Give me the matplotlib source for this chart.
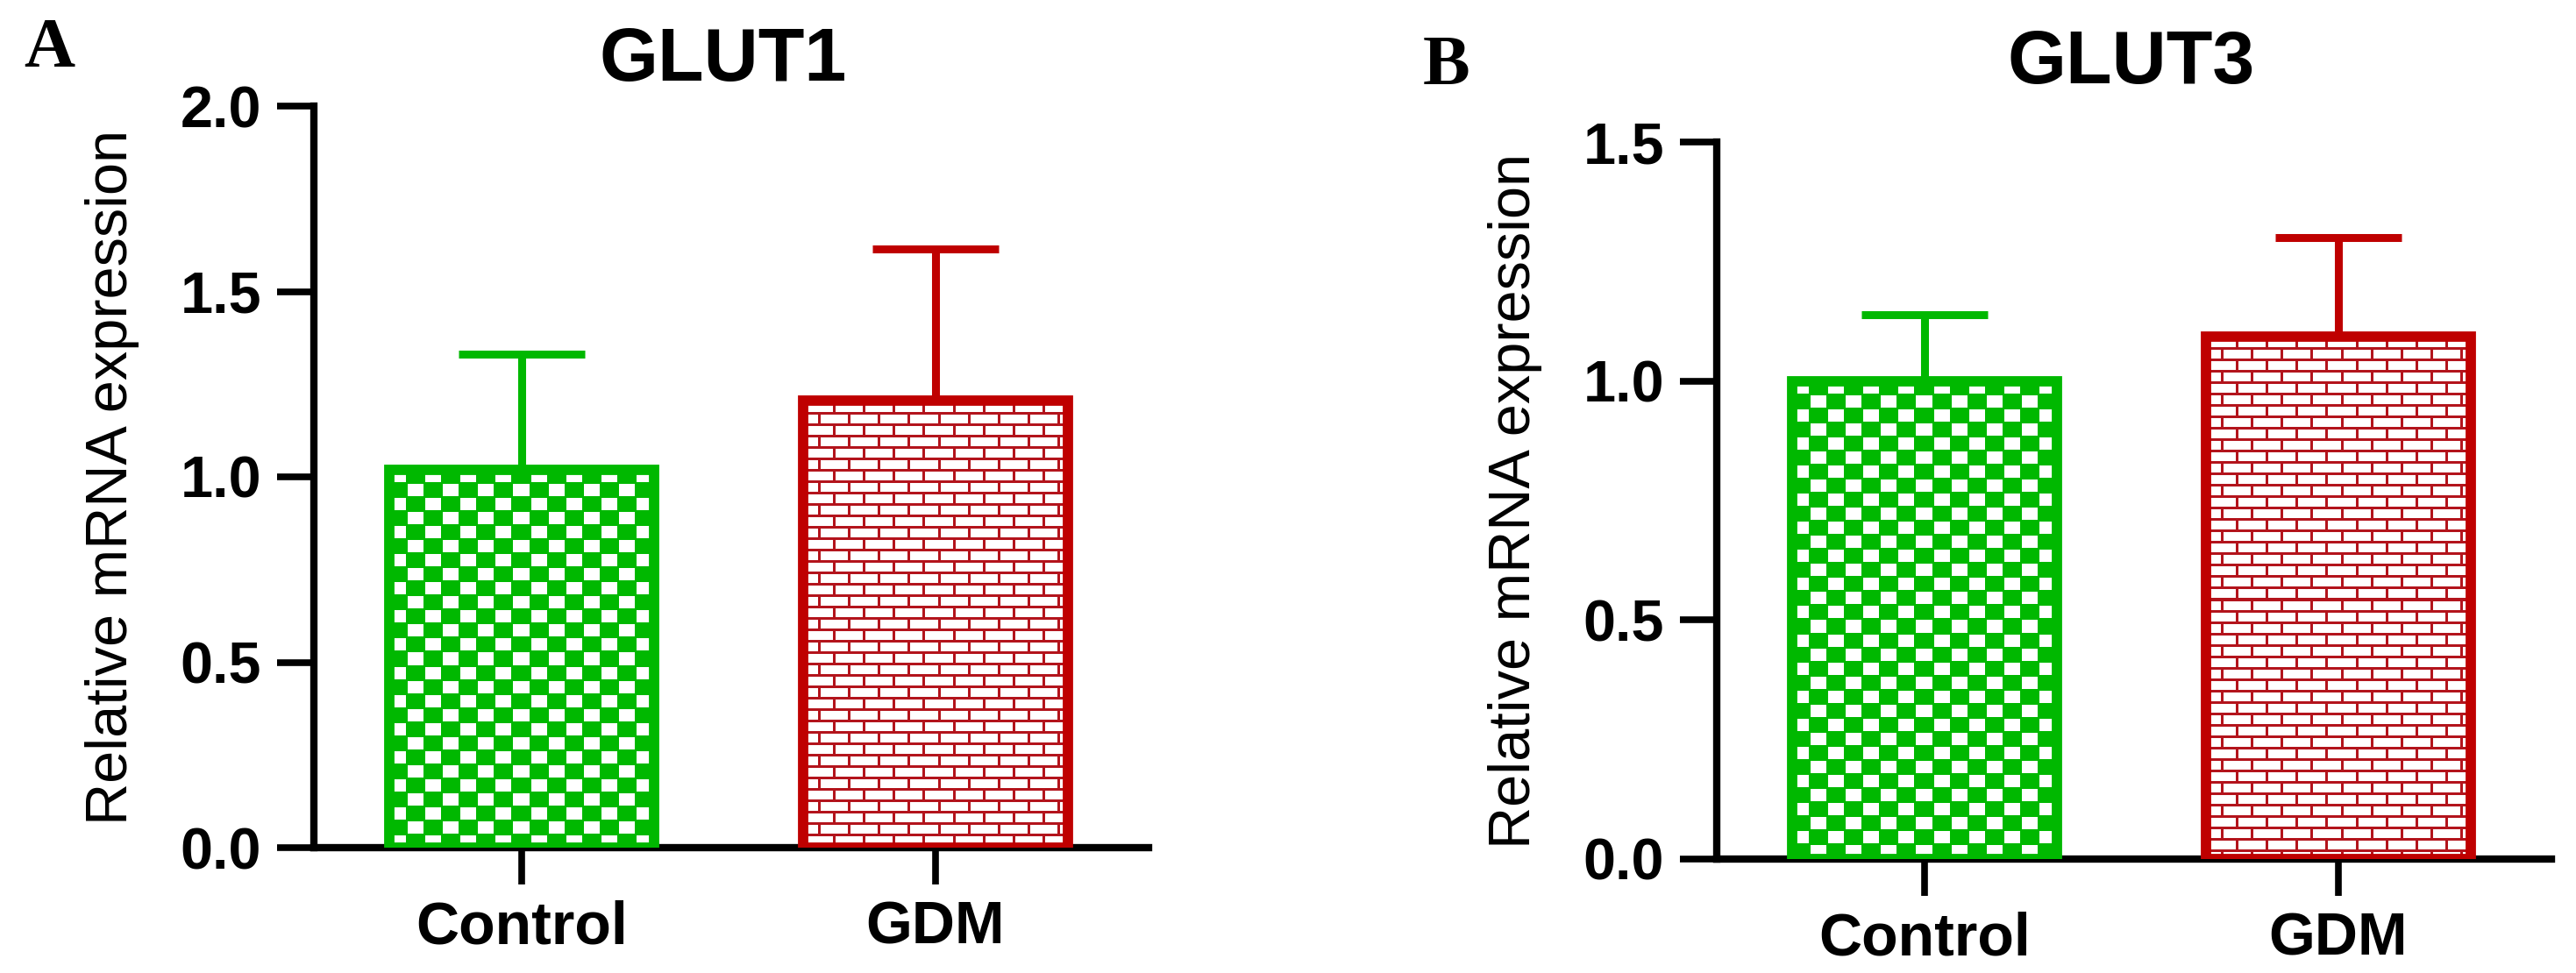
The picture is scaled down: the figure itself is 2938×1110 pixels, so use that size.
import numpy as np
import matplotlib
matplotlib.use("Agg")
import matplotlib.pyplot as plt
from matplotlib.ticker import FormatStrFormatter, MultipleLocator

# -----------------------------
# Data
# -----------------------------
groups = ["Control", "GDM"]

glut1_mean = [1.02, 1.205]
glut1_err = [0.31, 0.41]

glut3_mean = [1.00, 1.093]
glut3_err = [0.138, 0.207]

# -----------------------------
# Style
# -----------------------------
GREEN = "#00b800"
RED = "#bf0000"
MORTAR = "#b3141c"
SANS = "Liberation Sans"
SERIF = "Liberation Serif"

DPI = 100
BAR_W = 0.64

fig = plt.figure(figsize=(29.38, 11.10), dpi=DPI)
fig.patch.set_facecolor("white")


def checker_texture(h, w, cw=20, ch=16):
    yy, xx = np.mgrid[0:h, 0:w]
    cx, cy = xx // cw, yy // ch
    white = ((cx + cy) % 2 == 0) & (xx % cw >= 1) & (xx % cw < cw - 1) \
        & (yy % ch >= 1) & (yy % ch < ch - 1)
    img = np.zeros((h, w, 3))
    img[:] = matplotlib.colors.to_rgb(GREEN)
    img[white] = 1.0
    return img


def brick_texture(h, w, bh=13, bw=34, t=3):
    yy, xx = np.mgrid[0:h, 0:w]
    row = yy // bh
    shift = (row % 2) * (bw // 2)
    mortar = (yy % bh < t) | ((xx + shift) % bw < t)
    img = np.ones((h, w, 3))
    img[mortar] = matplotlib.colors.to_rgb(MORTAR)
    return img


def draw_panel(ax, means, errs, ymax, title, title_pos, letter, letter_pos):
    x = np.arange(len(groups))
    colors = [GREEN, RED]
    textures = [checker_texture, brick_texture]

    ax.set_xlim(-0.502, 1.515)
    ax.set_ylim(0, ymax)

    # error bars (upper only), lower cap hidden under the bar
    for i in range(len(groups)):
        ax.errorbar(x[i], means[i], yerr=[[0], [errs[i]]], fmt="none",
                    ecolor=colors[i], elinewidth=6.5, capsize=52,
                    capthick=6.5, zorder=1)

    bars = ax.bar(x, means, width=BAR_W, facecolor="none",
                  edgecolor=colors, linewidth=8.5, zorder=3)

    # patterned fill clipped to each bar
    for i, patch in enumerate(bars.patches):
        x0, y0 = ax.transData.transform((patch.get_x(), 0))
        x1, y1 = ax.transData.transform((patch.get_x() + patch.get_width(),
                                         patch.get_height()))
        W, H = int(round(x1 - x0)), int(round(y1 - y0))
        im = ax.imshow(textures[i](H, W), interpolation="nearest",
                       extent=(patch.get_x(), patch.get_x() + patch.get_width(),
                               0, patch.get_height()),
                       aspect="auto", origin="upper", zorder=2)
        im.set_clip_path(patch)

    ax.set_xlim(-0.502, 1.515)
    ax.set_ylim(0, ymax)

    for s in ["top", "right"]:
        ax.spines[s].set_visible(False)
    for s in ["left", "bottom"]:
        ax.spines[s].set_linewidth(6)
        ax.spines[s].set_capstyle("projecting")

    ax.yaxis.set_major_locator(MultipleLocator(0.5))
    ax.yaxis.set_major_formatter(FormatStrFormatter("%.1f"))
    ax.set_xticks(x)
    ax.set_xticklabels(groups)
    ax.tick_params(axis="both", length=30, width=5.5, pad=13, color="black")
    for lab in ax.get_yticklabels():
        lab.set_fontfamily(SANS)
        lab.set_fontweight("bold")
        lab.set_fontsize(48)
    for lab in ax.get_xticklabels():
        lab.set_fontfamily(SANS)
        lab.set_fontweight("bold")
        lab.set_fontsize(49)

    ax.set_ylabel("Relative mRNA expression", fontsize=48, family=SANS,
                  va="baseline")
    ax.yaxis.set_label_coords(-0.2237, 0.5)

    ax.text(title_pos[0], title_pos[1], title, transform=ax.transAxes,
            ha="center", va="baseline", fontsize=62, fontweight="bold",
            family=SANS)
    fig.text(letter_pos[0], letter_pos[1], letter, ha="left", va="baseline",
             fontsize=58, fontweight="bold", family=SERIF)


axA = fig.add_axes([358 / 2938, (1110 - 967) / 1110, 952 / 2938, 846 / 1110])
axB = fig.add_axes([1958 / 2938, (1110 - 980) / 1110, 952 / 2938, 818 / 1110])

draw_panel(axA, glut1_mean, glut1_err, 2.0, "GLUT1", (0.4905, 1.0343),
           "A", (27 / 2938, (1110 - 76) / 1110))
draw_panel(axB, glut3_mean, glut3_err, 1.5, "GLUT3", (0.496, 1.082),
           "B", (1623 / 2938, (1110 - 96) / 1110))

fig.savefig("out.png", dpi=DPI, facecolor="white")
plt.close(fig)
